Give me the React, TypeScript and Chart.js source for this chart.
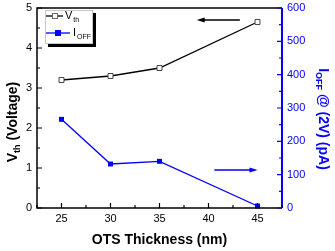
import React, { useEffect, useRef } from "react";
import { Chart, registerables } from "chart.js";

Chart.register(...registerables);

const thickness = [25, 30, 35, 45];
const vth = [3.2, 3.3, 3.5, 4.65];
const ioff = [266, 132, 140, 6];
const xTicks = [25, 30, 35, 40, 45];
const xMinorTicks = [22.5, 27.5, 32.5, 37.5, 42.5, 47.5];
const yLeftTicks = [0, 1, 2, 3, 4, 5];
const yLeftMinor = [0.5, 1.5, 2.5, 3.5, 4.5];
const yRightTicks = [0, 100, 200, 300, 400, 500, 600];
const yRightMinor = [50, 150, 250, 350, 450, 550];
// arrow annotations: [xFrom, xTo, y]
const vthArrow = [43.2, 38.8, 4.7];
const ioffArrow = [40.6, 45.0, 114];

const BLUE = "#0000ff";
const FONT = "'Liberation Sans', Arial, sans-serif";

function drawRich(ctx: CanvasRenderingContext2D, parts: { t: string; sub?: boolean }[], size: number, subSize: number, x: number, y: number, color: string, align: "center" | "left") {
  ctx.fillStyle = color;
  ctx.textBaseline = "middle";
  ctx.textAlign = "left";
  let total = 0;
  const widths = parts.map((p) => {
    ctx.font = `bold ${p.sub ? subSize : size}px ${FONT}`;
    const w = ctx.measureText(p.t).width;
    total += w;
    return w;
  });
  let cx = align === "center" ? x - total / 2 : x;
  parts.forEach((p, i) => {
    ctx.font = `bold ${p.sub ? subSize : size}px ${FONT}`;
    ctx.fillText(p.t, cx, p.sub ? y + size * 0.35 : y);
    cx += widths[i];
  });
}

function drawRichPlain(ctx: CanvasRenderingContext2D, parts: { t: string; sub?: boolean }[], size: number, subSize: number, x: number, y: number, color: string) {
  ctx.fillStyle = color;
  ctx.textBaseline = "middle";
  ctx.textAlign = "left";
  let cx = x;
  parts.forEach((p) => {
    ctx.font = `${p.sub ? subSize : size}px ${FONT}`;
    ctx.fillText(p.t, cx, p.sub ? y + size * 0.35 : y);
    cx += ctx.measureText(p.t).width + (p.sub ? 0 : 1);
  });
}

function arrow(ctx: CanvasRenderingContext2D, x1: number, x2: number, y: number, color: string) {
  ctx.strokeStyle = color;
  ctx.fillStyle = color;
  ctx.lineWidth = 1.6;
  const dir = Math.sign(x2 - x1);
  ctx.beginPath();
  ctx.moveTo(x1, y);
  ctx.lineTo(x2 - dir * 6, y);
  ctx.stroke();
  ctx.beginPath();
  ctx.moveTo(x2, y);
  ctx.lineTo(x2 - dir * 8, y - 2.5);
  ctx.lineTo(x2 - dir * 8, y + 2.5);
  ctx.closePath();
  ctx.fill();
}

const decor = {
  id: "decor",
  afterDraw(chart: any) {
    const ctx: CanvasRenderingContext2D = chart.ctx;
    const ca = chart.chartArea;
    const xs = chart.scales.x;
    const yl = chart.scales.y;
    const yr = chart.scales.y1;
    ctx.save();
    // frame
    ctx.lineWidth = 1.5;
    ctx.strokeStyle = "#000";
    ctx.beginPath();
    ctx.moveTo(ca.right, ca.top);
    ctx.lineTo(ca.left, ca.top);
    ctx.lineTo(ca.left, ca.bottom);
    ctx.lineTo(ca.right, ca.bottom);
    ctx.stroke();
    ctx.strokeStyle = BLUE;
    ctx.lineWidth = 2;
    ctx.beginPath();
    ctx.moveTo(ca.right, ca.top);
    ctx.lineTo(ca.right, ca.bottom);
    ctx.stroke();
    // ticks
    ctx.lineWidth = 1.2;
    ctx.strokeStyle = "#000";
    ctx.beginPath();
    xTicks.forEach((v) => { const p = xs.getPixelForValue(v); ctx.moveTo(p, ca.bottom); ctx.lineTo(p, ca.bottom - 5); });
    xMinorTicks.forEach((v) => { const p = xs.getPixelForValue(v); ctx.moveTo(p, ca.bottom); ctx.lineTo(p, ca.bottom - 3); });
    yLeftTicks.forEach((v) => { const p = yl.getPixelForValue(v); ctx.moveTo(ca.left, p); ctx.lineTo(ca.left + 5, p); });
    yLeftMinor.forEach((v) => { const p = yl.getPixelForValue(v); ctx.moveTo(ca.left, p); ctx.lineTo(ca.left + 3, p); });
    ctx.stroke();
    ctx.strokeStyle = BLUE;
    ctx.beginPath();
    yRightTicks.forEach((v) => { const p = yr.getPixelForValue(v); ctx.moveTo(ca.right, p); ctx.lineTo(ca.right - 5, p); });
    yRightMinor.forEach((v) => { const p = yr.getPixelForValue(v); ctx.moveTo(ca.right, p); ctx.lineTo(ca.right - 3, p); });
    ctx.stroke();

    // arrows
    arrow(ctx, xs.getPixelForValue(vthArrow[0]), xs.getPixelForValue(vthArrow[1]), yl.getPixelForValue(vthArrow[2]), "#000");
    arrow(ctx, xs.getPixelForValue(ioffArrow[0]), xs.getPixelForValue(ioffArrow[1]), yr.getPixelForValue(ioffArrow[2]), BLUE);

    // titles
    drawRich(ctx, [{ t: "OTS Thickness (nm)" }], 14, 9, (ca.left + ca.right) / 2, 240, "#000", "center");
    ctx.save();
    ctx.translate(13, 122);
    ctx.rotate(-Math.PI / 2);
    drawRich(ctx, [{ t: "V" }, { t: "th", sub: true }, { t: " (Voltage)" }], 14, 9, 0, 0, "#000", "center");
    ctx.restore();
    ctx.save();
    ctx.translate(323, 119);
    ctx.rotate(Math.PI / 2);
    drawRich(ctx, [{ t: "I" }, { t: "OFF", sub: true }, { t: " @ (2V) (pA)" }], 14, 9, 0, 0, BLUE, "center");
    ctx.restore();

    // legend
    const lx = 45, ly = 10, lw = 48, lh = 34;
    ctx.fillStyle = "#000";
    ctx.fillRect(lx + 3, ly + 3, lw, lh);
    ctx.fillStyle = "#fff";
    ctx.fillRect(lx, ly, lw, lh);
    ctx.strokeStyle = "#c8c8c8";
    ctx.lineWidth = 1;
    ctx.strokeRect(lx + 0.5, ly + 0.5, lw - 1, lh - 1);
    // row 1
    ctx.strokeStyle = "#000";
    ctx.lineWidth = 1.3;
    ctx.beginPath();
    ctx.moveTo(lx + 1, ly + 6); ctx.lineTo(lx + 18, ly + 6);
    ctx.stroke();
    ctx.fillStyle = "#fff";
    ctx.fillRect(lx + 7, ly + 3, 6, 6);
    ctx.lineWidth = 1;
    ctx.strokeStyle = "#666";
    ctx.strokeRect(lx + 7.5, ly + 3.5, 5, 5);
    drawRichPlain(ctx, [{ t: "V" }, { t: "th", sub: true }], 11, 7, lx + 20, ly + 6, "#000");
    // row 2
    ctx.strokeStyle = BLUE;
    ctx.lineWidth = 1.3;
    ctx.beginPath();
    ctx.moveTo(lx + 1, ly + 23); ctx.lineTo(lx + 25, ly + 23);
    ctx.stroke();
    ctx.fillStyle = BLUE;
    ctx.fillRect(lx + 10, ly + 20, 6, 6);
    drawRichPlain(ctx, [{ t: "I" }, { t: "OFF", sub: true }], 11, 7, lx + 28, ly + 23, "#000");
    ctx.restore();
  },
};

const noPad = (a: any) => { a.paddingTop = 0; a.paddingBottom = 0; };

export default function App() {
  const ref = useRef<HTMLCanvasElement>(null);
  useEffect(() => {
    if (!ref.current) return;
    const chart = new Chart(ref.current, {
      type: "line",
      data: {
        datasets: [
          {
            label: "Vth",
            data: thickness.map((x, i) => ({ x, y: vth[i] })),
            yAxisID: "y",
            borderColor: "#000",
            borderWidth: 1.3,
            pointStyle: "rect",
            pointRadius: 3.5,
            pointBackgroundColor: "#fff",
            pointBorderColor: "#444",
            pointBorderWidth: 1,
            tension: 0,
          },
          {
            label: "Ioff",
            data: thickness.map((x, i) => ({ x, y: ioff[i] })),
            yAxisID: "y1",
            borderColor: BLUE,
            borderWidth: 1.3,
            pointStyle: "rect",
            pointRadius: 3.5,
            pointBackgroundColor: BLUE,
            pointBorderColor: BLUE,
            pointBorderWidth: 0,
            tension: 0,
          },
        ],
      },
      options: {
        responsive: false,
        animation: false,
        clip: false as any,
        layout: { padding: { top: 8, left: 0, right: 0, bottom: 0 } },
        plugins: { legend: { display: false }, tooltip: { enabled: false } },
        scales: {
          x: {
            type: "linear",
            min: 22.5,
            max: 47.5,
            grid: { display: false, drawTicks: false },
            border: { display: false },
            afterFit: (a: any) => { a.height = 43; a.paddingLeft = 0; a.paddingRight = 0; },
            ticks: {
              stepSize: 2.5,
              font: { size: 11, family: FONT },
              color: "#000",
              padding: 4,
              maxRotation: 0,
              autoSkip: false,
              callback: (v: any) => (xTicks.includes(Number(v)) ? String(v) : ""),
            },
          },
          y: {
            type: "linear",
            position: "left",
            min: 0,
            max: 5,
            grid: { display: false, drawTicks: false },
            border: { display: false },
            afterFit: (a: any) => { a.width = 37; noPad(a); },
            ticks: {
              stepSize: 1,
              font: { size: 11, family: FONT },
              color: "#000",
              padding: 5,
              autoSkip: false,
              callback: (v: any) => (yLeftTicks.includes(Number(v)) ? String(v) : ""),
            },
          },
          y1: {
            type: "linear",
            position: "right",
            min: 0,
            max: 600,
            grid: { display: false, drawTicks: false },
            border: { display: false },
            afterFit: (a: any) => { a.width = 53; noPad(a); },
            ticks: {
              stepSize: 100,
              font: { size: 11, family: FONT },
              color: BLUE,
              padding: 5,
              autoSkip: false,
              callback: (v: any) => (yRightTicks.includes(Number(v)) ? String(v) : ""),
            },
          },
        },
      },
      plugins: [decor],
    });
    return () => chart.destroy();
  }, []);
  return (
    <div style={{ position: "fixed", left: 0, top: 0, width: 335, height: 251, background: "#fff" }}>
      <canvas ref={ref} width={335} height={251} style={{ width: 335, height: 251 }} />
    </div>
  );
}
